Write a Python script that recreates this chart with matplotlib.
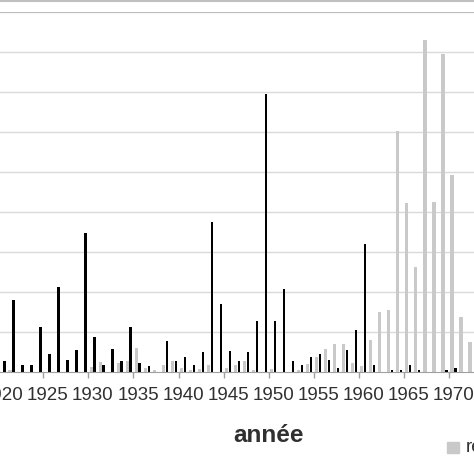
import matplotlib.pyplot as plt
import numpy as np

# years shown in the crop
years = list(range(1920, 1973))

# black series (one gridline = 10)
black = [2.7, 18, 1.7, 1.75, 11.2, 4.5, 21.2, 2.9, 5.4, 34.7,
         8.7, 1.75, 5.7, 2.7, 11.25, 2.2, 1.6, 0, 7.7, 2.7,
         3.8, 1.75, 5, 37.4, 16.9, 5.3, 2.7, 4.9, 12.8, 69.4,
         12.8, 20.75, 2.7, 1.7, 3.8, 4.5, 3, 1.1, 5.4, 10.6,
         31.9, 1.7, 0, 0.5, 0.5, 1.75, 0.5, 0, 0, 0.6,
         1.1, 0, 0]

# light grey series
grey = [0, 0.4, 0, 0, 0, 0, 0, 0, 0, 0,
        1.2, 2.6, 0, 2.25, 2.7, 6, 0.9, 0.5, 1.7, 2.7,
        0.9, 0.5, 0.7, 1.7, 0, 1.0, 1.7, 2.7, 0.5, 0,
        0.7, 0, 0, 0.5, 2, 3.8, 5.7, 7, 7, 2.3,
        1.5, 8, 14.9, 15.5, 60.3, 42.2, 26.3, 83, 42.6, 79.4,
        49.3, 13.7, 7.6]

tick_years = [1920, 1925, 1930, 1935, 1940, 1945, 1950, 1955, 1960, 1965, 1970]

plt.rcParams['font.family'] = ['Liberation Sans', 'DejaVu Sans']

fig = plt.figure(figsize=(4.74, 4.74), dpi=100)
# axes wider than the figure: the reference is a crop of a bigger chart
ax = fig.add_axes([-0.1752, 0.2152, 1.3321, 0.7595])

x = np.array(years)
ax.bar(x - 0.19, grey, width=0.36, color='#c9c9c9', zorder=3)
ax.bar(x + 0.19, black, width=0.26, color='#000000', zorder=3)

ax.set_xlim(1910.5, 1980.5)
ax.set_ylim(0, 90)

ax.set_yticks(range(10, 90, 10))
ax.set_yticklabels([])
ax.tick_params(axis='y', length=0)
ax.grid(axis='y', color='#dadada', linewidth=1, zorder=0)
ax.axhline(90, color='#bdbdbd', linewidth=1.6, zorder=1)

ax.set_xticks(tick_years)
ax.set_xticklabels([str(y) for y in tick_years], fontsize=13.5, color='#303030')
ax.tick_params(axis='x', length=0, pad=11)
ax.set_xticks([y - 0.5 for y in tick_years], minor=True)
ax.tick_params(axis='x', which='minor', length=4, color='#a0a0a0', width=1)

for s in ['left', 'right', 'top']:
    ax.spines[s].set_visible(False)
ax.spines['bottom'].set_color('#a0a0a0')
ax.spines['bottom'].set_zorder(4)

fig.text(269 / 474, 1 - 435 / 474, 'année', fontsize=17.5, fontweight='bold',
         color='#303030', ha='center', va='center')

# legend fragment at bottom right
fig.patches.append(plt.Rectangle((447 / 474, 1 - 453 / 474), 12 / 474, 11 / 474,
                                 transform=fig.transFigure, color='#c9c9c9'))
fig.text(466 / 474, 1 - 448 / 474, 'reboisement', fontsize=13.5,
         color='#303030', ha='left', va='center')

# chart border line at the very top
fig.add_artist(plt.Line2D([0, 1], [1 - 1 / 474, 1 - 1 / 474], color='#c0c0c0',
                          linewidth=1.5, transform=fig.transFigure))

fig.savefig('out.png', dpi=100)
